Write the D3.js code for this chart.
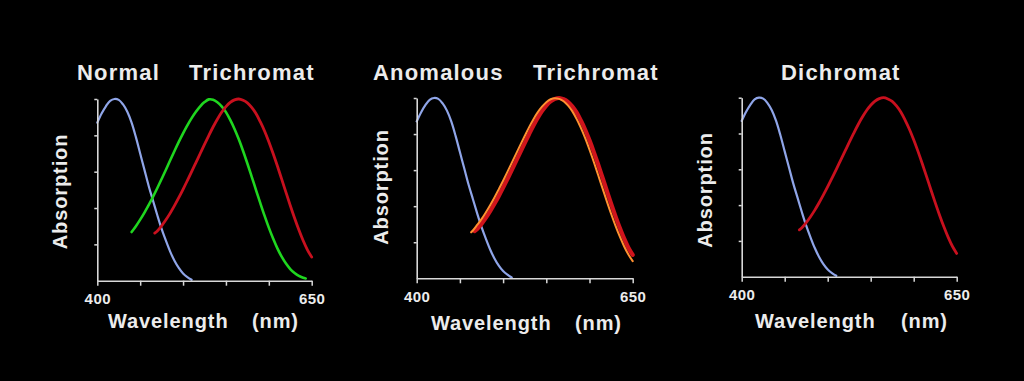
<!DOCTYPE html>
<html>
<head>
<meta charset="utf-8">
<script src="https://cdn.jsdelivr.net/npm/d3@7"></script>
<style>
  html, body { margin: 0; padding: 0; background: #000; }
  svg { display: block; }
  text { font-family: "Liberation Sans", Arial, sans-serif; font-weight: bold; fill: #ececec; }
</style>
</head>
<body>
<svg id="chart" width="1024" height="381"></svg>
<script>
// ---------------- data ----------------
const wavelengthTicks = [400, 450, 500, 550, 600, 650];
const wavelengthTickLabels = ["400", "", "", "", "", "650"];
const absorptionTicks = [0.2, 0.4, 0.6, 0.8, 1.0];

const panelTitles = [["Normal", "Trichromat"], ["Anomalous", "Trichromat"], ["Dichromat"]];
const xAxisLabel = ["Wavelength", "(nm)"];
const yAxisLabel = "Absorption";

// S cone (blue)
const sCone = [
  [400, 0.87], [405, 0.92], [410, 0.96], [415, 0.99], [420, 1.0], [425, 0.995],
  [430, 0.97], [435, 0.93], [440, 0.87], [445, 0.79], [450, 0.70], [455, 0.61],
  [460, 0.52], [465, 0.44], [470, 0.36], [475, 0.285], [480, 0.22], [485, 0.16],
  [490, 0.11], [495, 0.07], [500, 0.04], [505, 0.02], [510, 0.005]
];
// M cone (green)
const mCone = [
  [440, 0.268], [445, 0.300], [450, 0.336], [455, 0.375], [460, 0.417], [465, 0.462],
  [470, 0.510], [475, 0.560], [480, 0.611], [485, 0.663], [490, 0.714], [495, 0.764],
  [500, 0.811], [505, 0.855], [510, 0.895], [515, 0.930], [520, 0.960], [525, 0.983],
  [530, 0.998], [535, 0.996], [540, 0.982], [545, 0.960], [550, 0.928], [555, 0.885],
  [560, 0.835], [565, 0.778], [570, 0.714], [575, 0.645], [580, 0.573], [585, 0.500],
  [590, 0.428], [595, 0.358], [600, 0.292], [605, 0.232], [610, 0.178], [615, 0.132],
  [620, 0.094], [625, 0.064], [630, 0.042], [635, 0.026], [640, 0.016], [643, 0.012]
];
// L cone (red)
const lCone = [
  [467, 0.262], [470, 0.274], [475, 0.302], [480, 0.335], [485, 0.372], [490, 0.413],
  [495, 0.457], [500, 0.503], [505, 0.551], [510, 0.600], [515, 0.650], [520, 0.700],
  [525, 0.750], [530, 0.799], [535, 0.846], [540, 0.889], [545, 0.927], [550, 0.958],
  [555, 0.981], [560, 0.995], [565, 1.0], [570, 0.993], [575, 0.979], [580, 0.954],
  [585, 0.920], [590, 0.875], [595, 0.824], [600, 0.765], [605, 0.700], [610, 0.631],
  [615, 0.559], [620, 0.486], [625, 0.414], [630, 0.345], [635, 0.280], [640, 0.221],
  [645, 0.170], [650, 0.130]
];
// anomalous M cone (orange), shifted toward L
const mAnomalous = [
  [463, 0.255], [465, 0.265], [470, 0.296], [475, 0.328], [480, 0.365], [485, 0.405],
  [490, 0.448], [495, 0.494], [500, 0.541], [505, 0.590], [510, 0.640], [515, 0.690],
  [520, 0.740], [525, 0.789], [530, 0.837], [535, 0.881], [540, 0.920], [545, 0.952],
  [550, 0.977], [555, 0.993], [560, 0.999], [565, 0.995], [570, 0.982], [575, 0.959],
  [580, 0.927], [585, 0.884], [590, 0.834], [595, 0.777], [600, 0.713], [605, 0.645],
  [610, 0.573], [615, 0.500], [620, 0.428], [625, 0.358], [630, 0.292], [635, 0.232],
  [640, 0.178], [645, 0.132], [650, 0.095]
];

// ---------------- layout ----------------
const panels = [
  { x0: 97.3, x1: 311.7, yTop: 99, yBot: 280.7,
    titleX: [77, 189], titleY: 80,
    yLabelX: 67, yLabelY: 191.5,
    xLabelX: [108, 252], xLabelY: 328,
    curves: [
      { data: sCone, color: "#8fa5e8", width: 2.2 },
      { data: mCone, color: "#1fd61f", width: 2.6 },
      { data: lCone, color: "#c8101e", width: 2.8 }
    ] },
  { x0: 416.7, x1: 632.7, yTop: 98, yBot: 278.3,
    titleX: [373, 533], titleY: 80,
    yLabelX: 388, yLabelY: 187,
    xLabelX: [431, 575], xLabelY: 330,
    curves: [
      { data: sCone, color: "#8fa5e8", width: 2.2 },
      { data: lCone, color: "#d0141c", width: 4.2 },
      { data: mAnomalous, color: "#ff9030", width: 2.0 }
    ] },
  { x0: 741.7, x1: 956.7, yTop: 97.7, yBot: 276.7,
    titleX: [781], titleY: 80,
    yLabelX: 712, yLabelY: 190,
    xLabelX: [755, 901], xLabelY: 328,
    curves: [
      { data: sCone, color: "#8fa5e8", width: 2.2 },
      { data: lCone, color: "#c8101e", width: 2.8 }
    ] }
];

const svg = d3.select("#chart");
svg.append("rect").attr("width", 1024).attr("height", 381).attr("fill", "#000");

panels.forEach((p, i) => {
  const x = d3.scaleLinear().domain([400, 650]).range([p.x0, p.x1]);
  const y = d3.scaleLinear().domain([0, 1]).range([p.yBot, p.yTop]);
  const g = svg.append("g");

  // curves
  const line = d3.line().x(d => x(d[0])).y(d => y(d[1])).curve(d3.curveCatmullRom.alpha(0.5));
  p.curves.forEach(c => {
    g.append("path").datum(c.data)
      .attr("d", line)
      .attr("fill", "none")
      .attr("stroke", c.color)
      .attr("stroke-width", c.width)
      .attr("stroke-linecap", "round")
      .attr("stroke-linejoin", "round");
  });

  // x axis
  const xAxis = g.append("g")
    .attr("transform", `translate(0,${p.yBot})`)
    .call(d3.axisBottom(x).tickValues(wavelengthTicks)
      .tickFormat((d, k) => wavelengthTickLabels[k])
      .tickSize(5).tickSizeOuter(0));
  xAxis.select(".domain").attr("stroke", "#d8d8d8").attr("stroke-width", 1.6);
  xAxis.selectAll(".tick line").attr("stroke", "#d8d8d8").attr("stroke-width", 1.5);
  xAxis.selectAll(".tick text")
    .attr("fill", "#ececec")
    .style("font-family", "'Liberation Sans', Arial, sans-serif")
    .style("font-weight", "bold")
    .style("font-size", "15px")
    .style("letter-spacing", "0.5px")
    .attr("y", 0).attr("dy", "23.5px");

  // y axis
  const yAxis = g.append("g")
    .attr("transform", `translate(${p.x0},0)`)
    .call(d3.axisLeft(y).tickValues(absorptionTicks).tickFormat("")
      .tickSize(3).tickSizeOuter(0));
  yAxis.select(".domain").attr("stroke", "#d8d8d8").attr("stroke-width", 1.6);
  yAxis.selectAll(".tick line").attr("stroke", "#d8d8d8").attr("stroke-width", 1.5);

  // title
  panelTitles[i].forEach((t, k) => {
    g.append("text").attr("x", p.titleX[k]).attr("y", p.titleY)
      .style("font-size", "22px").style("letter-spacing", "1.2px").text(t);
  });

  // y label
  g.append("text")
    .attr("transform", `translate(${p.yLabelX},${p.yLabelY}) rotate(-90)`)
    .attr("text-anchor", "middle")
    .style("font-size", "20px").style("letter-spacing", "0.9px")
    .text(yAxisLabel);

  // x label
  const xl = g.append("text").attr("y", p.xLabelY)
    .style("font-size", "20px").style("letter-spacing", "0.9px");
  xAxisLabel.forEach((t, k) => {
    xl.append("tspan").attr("x", p.xLabelX[k]).text(t);
  });
});
</script>
</body>
</html>
